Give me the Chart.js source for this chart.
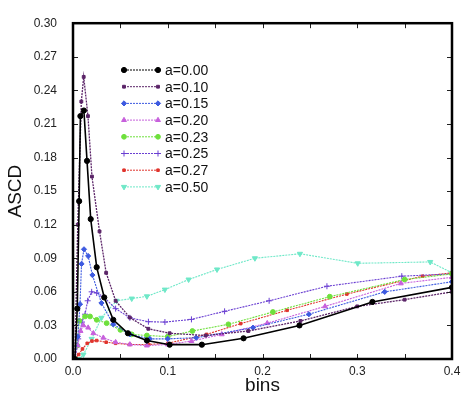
<!DOCTYPE html>
<html>
<head>
<meta charset="utf-8">
<script src="https://cdn.jsdelivr.net/npm/chart.js@4.4.1/dist/chart.umd.min.js"></script>
<style>
  html, body { margin: 0; padding: 0; background: #fff; }
  #wrap { width: 469px; height: 405px; }
</style>
</head>
<body>
<div id="wrap"><canvas id="c" width="469" height="405"></canvas></div>
<script>
// series labels
const seriesLabels = ['a=0.00', 'a=0.10', 'a=0.15', 'a=0.20', 'a=0.23', 'a=0.25', 'a=0.27', 'a=0.50'];

// values: bins (x) and ASCD (y) per series
const bins00 = [0.002, 0.0045, 0.0065, 0.0078, 0.0115, 0.0148, 0.0187, 0.025, 0.033, 0.0425, 0.058, 0.078, 0.102, 0.136, 0.180, 0.239, 0.316, 0.4];
const ascd00 = [0.0, 0.045, 0.141, 0.217, 0.222, 0.177, 0.125, 0.082, 0.055, 0.035, 0.023, 0.0165, 0.0128, 0.0128, 0.0185, 0.030, 0.051, 0.064];

const bins10 = [0.002, 0.005, 0.0088, 0.0113, 0.0158, 0.020, 0.028, 0.035, 0.045, 0.060, 0.0795, 0.102, 0.14, 0.185, 0.24, 0.30, 0.35, 0.4];
const ascd10 = [0.0, 0.12, 0.230, 0.252, 0.217, 0.163, 0.114, 0.077, 0.052, 0.037, 0.027, 0.023, 0.021, 0.025, 0.034, 0.047, 0.053, 0.060];

const bins15 = [0.002, 0.005, 0.0074, 0.009, 0.0116, 0.016, 0.0205, 0.03, 0.0425, 0.06, 0.081, 0.1, 0.13, 0.19, 0.249, 0.329, 0.4];
const ascd15 = [0.0, 0.02, 0.049, 0.085, 0.098, 0.092, 0.075, 0.050, 0.031, 0.022, 0.018, 0.018, 0.019, 0.028, 0.040, 0.060, 0.069];

const bins20 = [0.002, 0.005, 0.008, 0.011, 0.016, 0.0215, 0.032, 0.045, 0.06, 0.078, 0.1, 0.125, 0.157, 0.205, 0.266, 0.346, 0.4];
const ascd20 = [0.0, 0.012, 0.025, 0.030, 0.028, 0.023, 0.019, 0.015, 0.013, 0.012, 0.013, 0.016, 0.022, 0.032, 0.047, 0.0675, 0.073];

const bins23 = [0.002, 0.0045, 0.0067, 0.0127, 0.018, 0.025, 0.0355, 0.05, 0.062, 0.078, 0.1, 0.126, 0.164, 0.211, 0.271, 0.35, 0.4];
const ascd23 = [0.0, 0.012, 0.034, 0.038, 0.038, 0.035, 0.032, 0.026, 0.022, 0.021, 0.020, 0.025, 0.031, 0.042, 0.0557, 0.071, 0.076];

const bins25 = [0.002, 0.0055, 0.0095, 0.0127, 0.0155, 0.0197, 0.025, 0.032, 0.045, 0.06, 0.0796, 0.097, 0.125, 0.16, 0.207, 0.268, 0.347, 0.4];
const ascd25 = [0.0, 0.018, 0.033, 0.040, 0.052, 0.060, 0.059, 0.0557, 0.045, 0.0368, 0.0333, 0.033, 0.0354, 0.0426, 0.052, 0.065, 0.074, 0.076];

const bins27 = [0.002, 0.006, 0.01, 0.015, 0.02, 0.025, 0.035, 0.045, 0.06, 0.08, 0.1, 0.141, 0.177, 0.226, 0.289, 0.369, 0.4];
const ascd27 = [0.0, 0.004, 0.009, 0.014, 0.016, 0.0165, 0.015, 0.014, 0.013, 0.013, 0.014, 0.022, 0.0316, 0.0435, 0.058, 0.074, 0.077];

const bins50 = [0.006, 0.011, 0.0197, 0.030, 0.046, 0.062, 0.078, 0.097, 0.122, 0.152, 0.192, 0.2395, 0.3005, 0.377, 0.4];
const ascd50 = [0.0, 0.004, 0.018, 0.0368, 0.052, 0.054, 0.056, 0.062, 0.071, 0.080, 0.090, 0.094, 0.0855, 0.0867, 0.077];

const xTicks = [0.0, 0.1, 0.2, 0.3, 0.4];
const yTicks = [0.00, 0.03, 0.06, 0.09, 0.12, 0.15, 0.18, 0.21, 0.24, 0.27, 0.30];

const allBins = [bins00, bins10, bins15, bins20, bins23, bins25, bins27, bins50];
const allAscd = [ascd00, ascd10, ascd15, ascd20, ascd23, ascd25, ascd27, ascd50];

const colors = ['#000000', '#5b2468', '#3d5ae0', '#c760dc', '#6ee03c', '#6a3fd2', '#e0352e', '#6fe8c8'];
const pointStyles = ['circle', 'rect', 'rectRot', 'triangle', 'circle', 'cross', 'rect', 'triangle'];
const pointRotations = [0, 0, 0, 0, 0, 0, 0, 180];
const pointRadii = [2.6, 2, 2.6, 2.8, 2.4, 3, 1.8, 3];
const lineWidths = [1.6, 1.3, 1.1, 1.1, 1.1, 1.1, 1.1, 1.1];
const dashes = [[], [2, 1], [2, 1], [2, 1], [2, 1], [2, 1], [2, 1], [2, 1]];

const datasets = seriesLabels.map(function (label, i) {
    return {
        label: label,
        data: allBins[i].map(function (x, k) { return { x: x, y: allAscd[i][k] }; }),
        borderColor: colors[i],
        backgroundColor: colors[i],
        borderWidth: lineWidths[i],
        borderDash: dashes[i],
        pointStyle: pointStyles[i],
        pointRotation: pointRotations[i],
        pointRadius: pointRadii[i],
        pointBorderWidth: 1,
        tension: 0,
        fill: false
    };
});

// frame, inward tick marks and inside legend
const decorPlugin = {
    id: 'decor',
    afterDatasetsDraw: function (chart) {
        const ctx = chart.ctx;
        const a = chart.chartArea;
        const xs = chart.scales.x;
        const ys = chart.scales.y;
        ctx.save();
        ctx.strokeStyle = '#222';
        ctx.lineWidth = 1;
        for (let v = 0; v <= 0.4001; v += 0.05) {
            const px = Math.round(xs.getPixelForValue(v)) + 0.5;
            ctx.beginPath();
            ctx.moveTo(px, a.bottom); ctx.lineTo(px, a.bottom - 5);
            ctx.moveTo(px, a.top); ctx.lineTo(px, a.top + 5);
            ctx.stroke();
        }
        yTicks.forEach(function (v) {
            const py = Math.round(ys.getPixelForValue(v)) + 0.5;
            ctx.beginPath();
            ctx.moveTo(a.left, py); ctx.lineTo(a.left + 5, py);
            ctx.moveTo(a.right, py); ctx.lineTo(a.right - 5, py);
            ctx.stroke();
        });
        ctx.lineWidth = 2.5;
        ctx.strokeStyle = '#000';
        ctx.strokeRect(a.left, a.top, a.right - a.left, a.bottom - a.top);

        // legend
        const lx0 = 124, lx1 = 158, tx = 165, ty0 = 70, step = 16.7;
        ctx.font = '14px "Liberation Sans", Arial, sans-serif';
        ctx.textBaseline = 'middle';
        chart.data.datasets.forEach(function (ds, i) {
            const y = ty0 + i * step;
            ctx.strokeStyle = ds.borderColor;
            ctx.fillStyle = ds.borderColor;
            ctx.lineWidth = 1;
            ctx.setLineDash([2, 1]);
            ctx.beginPath();
            ctx.moveTo(lx0, y); ctx.lineTo(lx1, y);
            ctx.stroke();
            ctx.setLineDash([]);
            const opt = { pointStyle: ds.pointStyle, radius: ds.pointRadius, rotation: ds.pointRotation, borderWidth: 1 };
            Chart.helpers.drawPoint(ctx, opt, lx0, y);
            Chart.helpers.drawPoint(ctx, opt, lx1, y);
            ctx.fillStyle = '#111';
            ctx.fillText(ds.label, tx, y + 1);
        });
        ctx.restore();
    }
};

new Chart(document.getElementById('c').getContext('2d'), {
    type: 'line',
    data: { datasets: datasets },
    options: {
        responsive: false,
        animation: false,
        layout: { padding: { top: 14, right: 17, left: 0, bottom: 0 } },
        plugins: { legend: { display: false }, tooltip: { enabled: false } },
        scales: {
            x: {
                type: 'linear',
                min: 0,
                max: 0.4,
                afterFit: function (scale) { scale.height = 46; },
                afterBuildTicks: function (scale) { scale.ticks = xTicks.map(function (v) { return { value: v }; }); },
                ticks: {
                    padding: 5,
                    color: '#222',
                    font: { family: '"Liberation Sans", Arial, sans-serif', size: 12 },
                    callback: function (v) { return Number(v).toFixed(1); }
                },
                grid: { display: false, drawTicks: false },
                border: { display: false },
                title: {
                    display: true,
                    text: 'bins',
                    color: '#111',
                    padding: { top: 0, bottom: 8 },
                    font: { family: '"Liberation Sans", Arial, sans-serif', size: 19 }
                }
            },
            y: {
                min: 0,
                max: 0.3,
                afterFit: function (scale) { scale.width = 73; },
                afterBuildTicks: function (scale) { scale.ticks = yTicks.map(function (v) { return { value: v }; }); },
                ticks: {
                    padding: 16,
                    color: '#222',
                    font: { family: '"Liberation Sans", Arial, sans-serif', size: 12 },
                    callback: function (v) { return Number(v).toFixed(2); }
                },
                grid: { display: false, drawTicks: false },
                border: { display: false },
                title: {
                    display: true,
                    text: 'ASCD',
                    color: '#111',
                    padding: { top: 4, bottom: 0 },
                    font: { family: '"Liberation Sans", Arial, sans-serif', size: 19 }
                }
            }
        }
    },
    plugins: [decorPlugin]
});
</script>
</body>
</html>
